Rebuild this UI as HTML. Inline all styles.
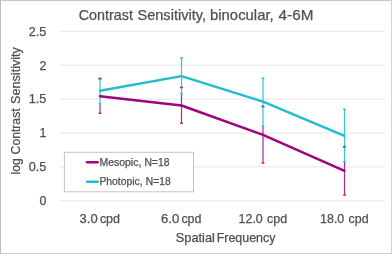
<!DOCTYPE html>
<html>
<head>
<meta charset="utf-8">
<title>Contrast Sensitivity, binocular, 4-6M</title>
<style>
html,body{margin:0;padding:0;background:#fff;}
body{width:392px;height:254px;overflow:hidden;}
svg{display:block;}
text{font-family:"Liberation Sans",sans-serif;fill:#505050;stroke:#505050;stroke-width:0.25px;}
.t{font-size:14.6px;}
.a{font-size:12.2px;}
.l{font-size:10.2px;}
</style>
</head>
<body>
<svg width="392" height="254" viewBox="0 0 392 254">
<rect x="0" y="0" width="392" height="254" fill="#ffffff"/>
<!-- gridlines -->
<g stroke="#e6e6e6" stroke-width="1" fill="none">
<line x1="59.4" x2="385.2" y1="31.3" y2="31.3"/>
<line x1="59.4" x2="385.2" y1="65.2" y2="65.2"/>
<line x1="59.4" x2="385.2" y1="99.1" y2="99.1"/>
<line x1="59.4" x2="385.2" y1="133.0" y2="133.0"/>
<line x1="59.4" x2="385.2" y1="166.9" y2="166.9"/>
<line x1="59.4" x2="385.2" y1="200.8" y2="200.8"/>
</g>
<!-- legend box -->
<rect x="64.4" y="152.3" width="129.1" height="39.5" fill="#ffffff" stroke="#c4c4c4" stroke-width="1"/>
<!-- mesopic error bars -->
<g stroke="#b6249a" fill="none">
<path stroke-width="1.2" d="M100.0 103.5V113.2"/><path stroke-width="1.5" d="M98.6 78.8h2.8M98.6 113.2h2.8"/>
<path stroke-width="1.2" d="M181.5 93.4V123.3"/><path stroke-width="1.5" d="M180.1 87.4h2.8M180.1 123.3h2.8"/>
<path stroke-width="1.2" d="M263.0 126.0V163.0"/><path stroke-width="1.5" d="M261.6 106.5h2.8M261.6 163.0h2.8"/>
<path stroke-width="1.2" d="M344.5 161.7V194.9"/><path stroke-width="1.5" d="M343.1 146.7h2.8M343.1 194.9h2.8"/>
</g>
<!-- photopic error bars -->
<g stroke="#35c4d7" fill="none">
<path stroke-width="1.2" d="M100.0 77.9V103.5"/><path stroke-width="1.5" d="M98.6 77.9h2.8M98.6 103.5h2.8"/>
<path stroke-width="1.2" d="M181.5 57.8V93.4"/><path stroke-width="1.5" d="M180.1 57.8h2.8M180.1 93.4h2.8"/>
<path stroke-width="1.2" d="M263.0 78.3V126.0"/><path stroke-width="1.5" d="M261.6 78.3h2.8M261.6 126.0h2.8"/>
<path stroke-width="1.2" d="M344.5 109.3V161.7"/><path stroke-width="1.5" d="M343.1 109.3h2.8M343.1 161.7h2.8"/>
</g>
<g stroke="#a3007d" stroke-width="1.5" fill="none" opacity="0.55"><path d="M98.6 78.8h2.8"/><path d="M180.1 87.4h2.8"/><path d="M261.6 106.5h2.8"/><path d="M343.1 146.7h2.8"/></g>
<!-- series -->
<polyline points="100.0,96.2 181.5,105.5 263.0,134.9 344.5,170.8" fill="none" stroke="#a3007d" stroke-width="2.45" stroke-linejoin="round" stroke-linecap="round"/>
<polyline points="100.0,90.8 181.5,76.1 263.0,101.7 344.5,135.9" fill="none" stroke="#1fbdd2" stroke-width="2.45" stroke-linejoin="round" stroke-linecap="round"/>
<!-- legend -->
<line x1="87.0" x2="97.7" y1="162.3" y2="162.3" stroke="#a3007d" stroke-width="2.4" stroke-linecap="round"/>
<line x1="87.0" x2="97.7" y1="181.8" y2="181.8" stroke="#1fbdd2" stroke-width="2.4" stroke-linecap="round"/>
<text class="l" y="165.6"><tspan x="99.5" textLength="41.8" lengthAdjust="spacingAndGlyphs">Mesopic,</tspan> <tspan x="144.4" textLength="25.0" lengthAdjust="spacingAndGlyphs">N=18</tspan></text>
<text class="l" y="184.9"><tspan x="99.4" textLength="43.3" lengthAdjust="spacingAndGlyphs">Photopic,</tspan> <tspan x="145.8" textLength="24.8" lengthAdjust="spacingAndGlyphs">N=18</tspan></text>
<!-- title -->
<text class="t" y="20.2"><tspan x="78.7" textLength="54.3" lengthAdjust="spacingAndGlyphs">Contrast</tspan> <tspan x="137.4" textLength="68.7" lengthAdjust="spacingAndGlyphs">Sensitivity,</tspan> <tspan x="210.0" textLength="63.7" lengthAdjust="spacingAndGlyphs">binocular,</tspan> <tspan x="278.6" textLength="34.8" lengthAdjust="spacingAndGlyphs">4-6M</tspan></text>
<!-- y tick labels -->
<text class="a" y="35.6"><tspan x="28.8" textLength="17.6" lengthAdjust="spacingAndGlyphs">2.5</tspan></text>
<text class="a" y="69.5"><tspan x="39.5" textLength="6.9" lengthAdjust="spacingAndGlyphs">2</tspan></text>
<text class="a" y="103.4"><tspan x="28.8" textLength="17.6" lengthAdjust="spacingAndGlyphs">1.5</tspan></text>
<text class="a" y="137.3"><tspan x="39.5" textLength="6.9" lengthAdjust="spacingAndGlyphs">1</tspan></text>
<text class="a" y="171.2"><tspan x="28.8" textLength="17.6" lengthAdjust="spacingAndGlyphs">0.5</tspan></text>
<text class="a" y="205.1"><tspan x="39.5" textLength="6.9" lengthAdjust="spacingAndGlyphs">0</tspan></text>
<!-- x tick labels -->
<text class="a" y="222.9"><tspan x="79.6" textLength="18.1" lengthAdjust="spacingAndGlyphs">3.0</tspan> <tspan x="99.9" textLength="20.1" lengthAdjust="spacingAndGlyphs">cpd</tspan></text>
<text class="a" y="222.9"><tspan x="161.1" textLength="18.1" lengthAdjust="spacingAndGlyphs">6.0</tspan> <tspan x="181.4" textLength="20.1" lengthAdjust="spacingAndGlyphs">cpd</tspan></text>
<text class="a" y="222.9"><tspan x="238.6" textLength="24.2" lengthAdjust="spacingAndGlyphs">12.0</tspan> <tspan x="267.1" textLength="20.0" lengthAdjust="spacingAndGlyphs">cpd</tspan></text>
<text class="a" y="222.9"><tspan x="320.1" textLength="24.2" lengthAdjust="spacingAndGlyphs">18.0</tspan> <tspan x="348.6" textLength="20.0" lengthAdjust="spacingAndGlyphs">cpd</tspan></text>
<!-- axis titles -->
<text class="a" y="242.1"><tspan x="175.8" textLength="39.1" lengthAdjust="spacingAndGlyphs">Spatial</tspan> <tspan x="216.7" textLength="58.8" lengthAdjust="spacingAndGlyphs">Frequency</tspan></text>
<text class="a" y="0" transform="translate(20.1 0) rotate(-90)"><tspan x="-174.4" textLength="16.2" lengthAdjust="spacingAndGlyphs">log</tspan> <tspan x="-154.4" textLength="46.0" lengthAdjust="spacingAndGlyphs">Contrast</tspan> <tspan x="-103.9" textLength="56.8" lengthAdjust="spacingAndGlyphs">Sensitivity</tspan></text>
<!-- outer border -->
<g shape-rendering="crispEdges"><rect x="0" y="0" width="392" height="1" fill="#c9c9c9"/><rect x="0" y="252" width="392" height="1" fill="#fbfbfb"/><rect x="0" y="253" width="392" height="1" fill="#cdcdcd"/><rect x="391" y="0" width="1" height="254" fill="#d4d4d4"/><rect x="0" y="0" width="1" height="254" fill="#bebebe"/></g>
</svg>
</body>
</html>
